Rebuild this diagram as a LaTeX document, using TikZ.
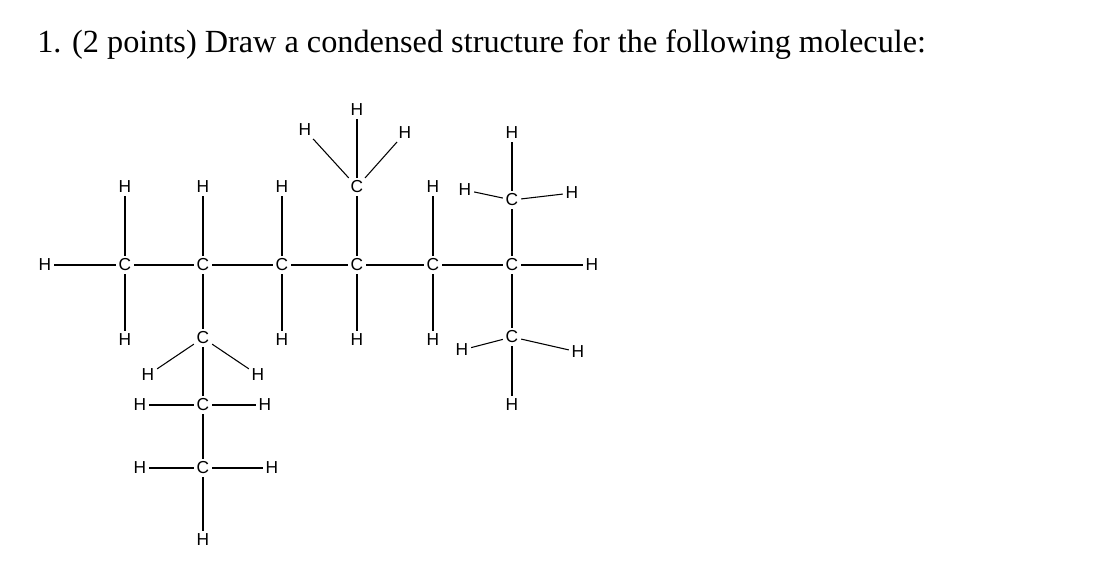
\documentclass[tikz,border=0pt]{standalone}
\usepackage{fontspec}
\setmainfont{Liberation Serif}
\newfontfamily\arial{Liberation Sans}
\begin{document}
\begin{tikzpicture}[x=0.75pt,y=-0.75pt,
  atm/.style={font=\arial\fontsize{13}{13}\selectfont,inner sep=2pt},
  bd/.style={line width=0.8pt}]
\useasboundingbox (0,0) rectangle (1114,577);
\node[anchor=west,font=\fontsize{24.2}{26}\selectfont,inner sep=0] (title) at (37,45) {1. (2 points) Draw a condensed structure for the following molecule:};
\node[atm] (h0) at (45,265) {H};
\node[atm] (c1) at (125,265) {C};
\node[atm] (c2) at (203,265) {C};
\node[atm] (c3) at (282,265) {C};
\node[atm] (c4) at (357,265) {C};
\node[atm] (c5) at (433,265) {C};
\node[atm] (c6) at (512,265) {C};
\node[atm] (h9) at (592,265) {H};
\node[atm] (t1) at (125,187) {H};
\node[atm] (t2) at (203,187) {H};
\node[atm] (t3) at (282,187) {H};
\node[atm] (t5) at (433,187) {H};
\node[atm] (b1) at (125,340) {H};
\node[atm] (b3) at (282,340) {H};
\node[atm] (b4) at (357,340) {H};
\node[atm] (b5) at (433,340) {H};
\node[atm] (m) at (357,187) {C};
\node[atm] (m1) at (357,110) {H};
\node[atm] (m2) at (305,130) {H};
\node[atm] (m3) at (405,133) {H};
\node[atm] (u) at (512,200) {C};
\node[atm] (u1) at (512,133) {H};
\node[atm] (u2) at (465,190) {H};
\node[atm] (u3) at (572,193) {H};
\node[atm] (d) at (512,337) {C};
\node[atm] (d1) at (462,350) {H};
\node[atm] (d2) at (578,352) {H};
\node[atm] (d3) at (512,405) {H};
\node[atm] (e) at (203,338) {C};
\node[atm] (e1) at (148,375) {H};
\node[atm] (e2) at (258,375) {H};
\node[atm] (f) at (203,405) {C};
\node[atm] (f1) at (140,405) {H};
\node[atm] (f2) at (265,405) {H};
\node[atm] (g) at (203,468) {C};
\node[atm] (g1) at (140,468) {H};
\node[atm] (g2) at (272,468) {H};
\node[atm] (g3) at (203,540) {H};
\foreach \a/\b in {h0/c1,c1/c2,c2/c3,c3/c4,c4/c5,c5/c6,c6/h9,
  c1/t1,c2/t2,c3/t3,c5/t5,c1/b1,c3/b3,c4/b4,c5/b5,
  c4/m,m/m1,m/m2,m/m3,c6/u,u/u1,u/u2,u/u3,c6/d,d/d1,d/d2,d/d3,
  c2/e,e/e1,e/e2,e/f,f/f1,f/f2,f/g,g/g1,g/g2,g/g3}
  \draw[bd] (\a) -- (\b);
\end{tikzpicture}
\end{document}
